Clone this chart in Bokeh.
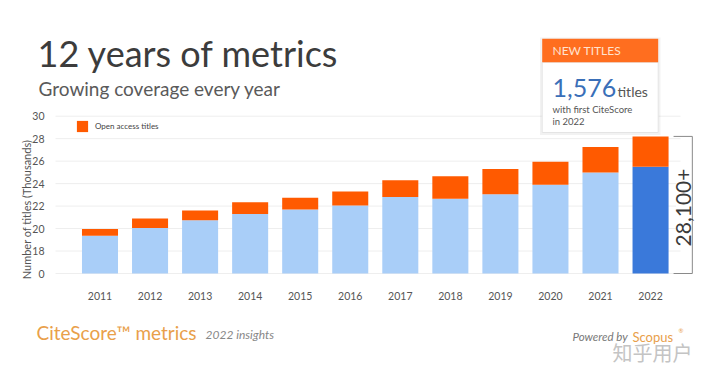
import math
from bokeh.plotting import figure
from bokeh.models import Range1d, FixedTicker, Label, Legend, LegendItem
from bokeh.embed import file_html
from bokeh.resources import INLINE

# ---------------- data ----------------
years = [2011, 2012, 2013, 2014, 2015, 2016, 2017, 2018, 2019, 2020, 2021, 2022]
# top of the non open-access part (thousands, on the broken axis)
other_titles = [19.35, 20.05, 20.75, 21.3, 21.7, 22.05, 22.8, 22.65, 23.05, 23.9, 25.0, 25.5]
# total titles (top of the stacked bar)
all_titles = [19.95, 20.9, 21.6, 22.35, 22.75, 23.3, 24.3, 24.65, 25.3, 25.95, 27.25, 28.2]
y_ticks = [16, 18, 20, 22, 24, 26, 28, 30]
y_tick_labels = ["0", "18", "20", "22", "24", "26", "28", "30"]
baseline = 16
legend_label = "Open access titles"
new_titles_count = "1,576"
total_label = "28,100+"

# ---------------- geometry helpers (canvas px -> data) ----------------
W, H = 712, 368
PX0, PY0 = 55.0, 273.0          # canvas px of plot-area left / baseline
XS, YS = 50.05, 11.236           # px per year, px per unit
X0 = years[0] - 99.5 / XS
X1 = X0 + W / XS
Y0 = baseline - (H - PY0) / YS
Y1 = baseline + PY0 / YS

def dx(px):
    return X0 + px / XS

def dy(py):
    return baseline + (PY0 - py) / YS

LIGHT = "#A9CEF8"
DARK = "#3A79DA"
ORANGE = "#FF5A00"
FONT = "Lato"

p = figure(width=W, height=H, output_backend="svg", toolbar_location=None,
           x_range=Range1d(X0, X1), y_range=Range1d(Y0, Y1),
           min_border=0)
p.outline_line_color = None
p.background_fill_color = "white"
p.border_fill_color = "white"

# axes (drawn inside the canvas at fixed locations)
p.xaxis.fixed_location = baseline
p.yaxis.fixed_location = dx(PX0)
p.xaxis.ticker = FixedTicker(ticks=years)
p.xaxis.major_label_overrides = {y: str(y) for y in years}
p.yaxis.ticker = FixedTicker(ticks=y_ticks)
p.yaxis.major_label_overrides = dict(zip(y_ticks, y_tick_labels))
for ax in (p.xaxis[0], p.yaxis[0]):
    ax.axis_line_color = None
    ax.major_tick_line_color = None
    ax.minor_tick_line_color = None
    ax.major_label_text_font = FONT
    ax.major_label_text_font_size = "10.5px"
    ax.major_label_text_color = "#555555"
p.yaxis.major_label_standoff = 5
p.xaxis.major_label_standoff = 12
p.xgrid.visible = False
p.ygrid.visible = False

# grid lines
p.segment(x0=dx(PX0), x1=dx(680), y0=y_ticks, y1=y_ticks, line_color="#eeeeee", line_width=1)

# bars
base_colors = [DARK if y == years[-1] else LIGHT for y in years]
p.vbar(x=years, bottom=baseline, top=other_titles, width=0.72, fill_color=base_colors, line_color=None)
oa = p.vbar(x=years, bottom=other_titles, top=all_titles, width=0.72, fill_color=ORANGE, line_color=None)

legend = Legend(items=[LegendItem(label=legend_label, renderers=[oa])], location=(75, H - 133),
                padding=0, margin=0, spacing=0, label_standoff=6, border_line_color=None,
                background_fill_alpha=0, glyph_width=14, glyph_height=14,
                label_text_font=FONT, label_text_font_size="8px", label_text_color="#444444")
p.add_layout(legend)

# NEW TITLES card
cl, cr = dx(541.7), dx(657.7)
p.quad(left=dx(539.5), right=dx(660), top=dy(37), bottom=dy(134.5), fill_color="black",
       fill_alpha=0.05, line_color=None)
p.quad(left=cl, right=cr, top=dy(61.7), bottom=dy(132), fill_color="white", line_color="#e4e4e4")
p.quad(left=cl, right=cr, top=dy(38.3), bottom=dy(61.7), fill_color="#FF6E1F", line_color=None)

# bracket next to 2022 bar
bx0 = years[-1] + 0.46
bx1 = years[-1] + 0.835
p.segment(x0=[bx0, bx0, bx1], y0=[all_titles[-1], baseline, baseline],
          x1=[bx1, bx1, bx1], y1=[all_titles[-1], baseline, all_titles[-1]],
          line_color="#8a8a8a", line_width=1)

def lab(text, x, y, size, color="#333333", align="left", style="normal",
        angle=0.0, font=FONT, bg=None):
    kw = {}
    if bg is not None:
        kw["background_fill_color"] = bg
    p.add_layout(Label(x=x, y=y, text=text, text_font=font, text_font_size=size,
                       text_color=color, text_align=align, text_baseline="middle",
                       text_font_style=style, angle=angle, **kw))

lab(total_label, years[-1] + 0.66, dy(207), "21px", "#3a3a3a",
    align="center", angle=math.pi / 2, bg="white")

# titles
lab("12 years of metrics", dx(37), dy(52), "36px", "#3c3c3c")
lab("Growing coverage every year", dx(38), dy(88), "19px", "#5a5a5a")

# y axis title
lab("Number of titles (Thousands)", dx(26), dy(209), "11px", "#555555", align="center",
    angle=math.pi / 2)

# card texts
lab("NEW TITLES", dx(552), dy(50), "12px", "#FFE2CF")
lab(new_titles_count, dx(552), dy(87), "25px", "#3A6FB8")
lab("titles", dx(617), dy(90.5), "14px", "#555555")
lab("with first CiteScore", dx(552), dy(109), "9.5px", "#555555")
lab("in 2022", dx(552), dy(121), "9.5px", "#555555")

# footer
lab("CiteScore\u2122 metrics", dx(36), dy(332), "19px", "#E9A04A")
lab("2022 insights", dx(205), dy(334), "12px", "#888888", style="italic")
lab("Powered by", dx(572), dy(336), "11.5px", "#777777", style="italic")
lab("Scopus", dx(632), dy(336), "13px", "#E9A04A")
lab("\u00ae", dx(678), dy(330), "6px", "#E9A04A")
lab("知乎用户", dx(612), dy(352), "20px", "#c4c4c4", font="Noto Sans CJK SC")

open("out.html", "w").write(file_html(p, INLINE))
